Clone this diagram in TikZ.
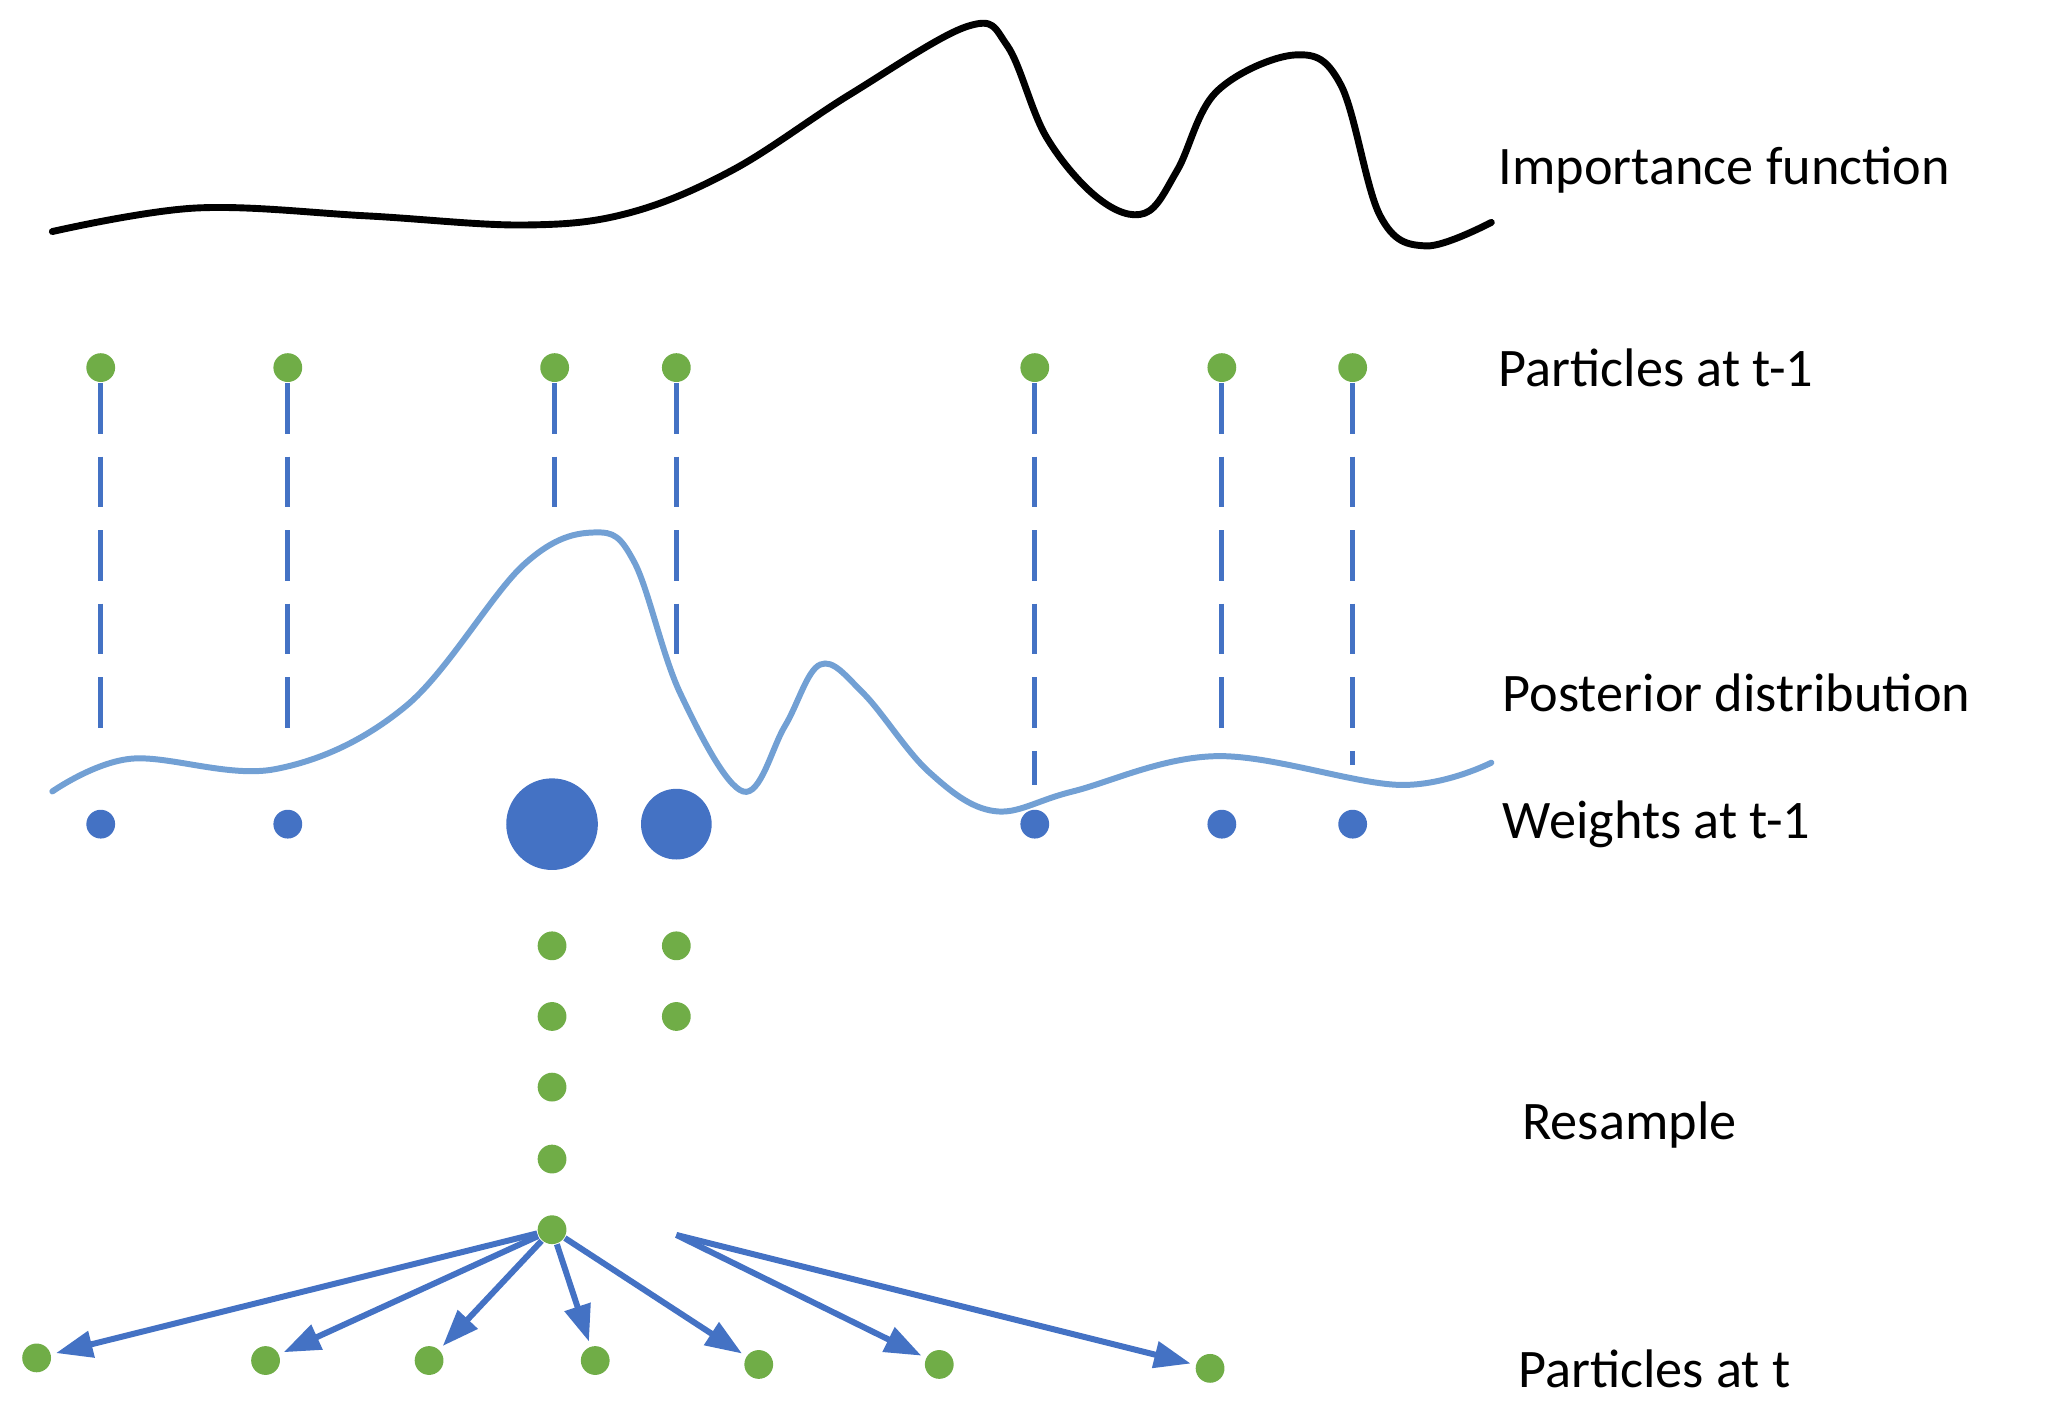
\documentclass[tikz,border=0pt]{standalone}
\usepackage{fontspec}
\setmainfont{Carlito}
\usetikzlibrary{arrows.meta}
\begin{document}
\begin{tikzpicture}[x=0.01cm,y=-0.01cm,
  lbl/.style={anchor=west,font=\fontsize{11.8}{14}\selectfont,inner sep=0},
  gdot/.style={circle,fill=green!55!black!60!lime,fill=pgreen,inner sep=0,minimum size=0.22cm},
  wdot/.style={circle,fill=pblue,inner sep=0},
  dsh/.style={pblue,line width=1.1pt,dash pattern=on 11pt off 5pt},
  arr/.style={pblue,line width=1.3pt,-{Triangle[length=0.28cm,width=0.2cm]},shorten >=1pt}]
\definecolor{pgreen}{RGB}{112,173,71}
\definecolor{pblue}{RGB}{68,114,196}
\definecolor{lblue}{RGB}{114,160,212}
\useasboundingbox (0,0) rectangle (1564,1085);
% importance function
\draw[line width=1.5pt,line cap=round] plot[smooth,tension=0.6] coordinates{(40,177) (150,159) (280,165) (400,172) (480,163) (560,130) (650,72) (740,20) (770,35) (800,105) (840,152) (875,163) (900,130) (930,70) (990,42) (1025,65) (1055,165) (1090,188) (1140,170)};
% posterior
\draw[lblue,line width=1.3pt,line cap=round] plot[smooth,tension=0.6] coordinates{(40,605) (100,580) (210,588) (310,540) (400,432) (455,407) (485,430) (520,530) (568,605) (600,555) (627,508) (660,530) (710,590) (760,620) (820,605) (930,578) (1070,600) (1140,583)};
% particles t-1
\foreach \n/\x/\e in {a/77/558,b/220/558,c/424/395,d/517/515,e/791/600,f/934/558,g/1034/585}{
  \node[gdot] (p\n) at (\x,281) {};
  \coordinate (e\n) at (\x,\e);
  \draw[dsh] (p\n.south) -- (e\n);
}
% weights
\foreach \n/\x/\s in {a/77/0.22,b/220/0.22,c/422/0.7,d/517/0.54,e/791/0.22,f/934/0.22,g/1034/0.22}{
  \node[wdot,minimum size=\s cm] (w\n) at (\x,630) {};
}
% resample
\foreach \i/\y in {1/723,2/777,3/831,4/886,5/940}{\node[gdot] (r\i) at (422,\y) {};}
\node[gdot] (s1) at (517,723) {};
\node[gdot] (s2) at (517,777) {};
\coordinate (s0) at (517,944);
% particles t
\foreach \i/\x/\y in {1/28/1038,2/203/1040,3/328/1040,4/455/1040,5/580/1043,6/718/1043,7/925/1046}{\node[gdot] (t\i) at (\x,\y) {};}
\foreach \i in {1,...,5}{\draw[arr] (r5) -- (t\i);}
\draw[arr] (s0) -- (t6);
\draw[arr] (s0) -- (t7);
% labels
\node[lbl] (l1) at (1145,130) {Importance function};
\node[lbl] (l2) at (1145,281) {Particles at t-1};
\node[lbl] (l3) at (1148,530) {Posterior distribution};
\node[lbl] (l4) at (1148,630) {Weights at t-1};
\node[lbl] (l5) at (1163,860) {Resample};
\node[lbl] (l6) at (1160,1046) {Particles at t};
\end{tikzpicture}
\end{document}
